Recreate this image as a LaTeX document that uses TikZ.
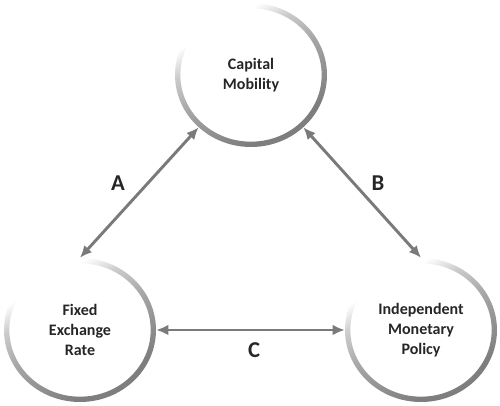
\documentclass[tikz,border=0pt]{standalone}
\usepackage{fontspec}
\setmainfont{Carlito}
\usepackage{tikz}
\usetikzlibrary{shapes.geometric,arrows.meta}

\definecolor{ringgray}{HTML}{7E7E7E}
\definecolor{arrowgray}{HTML}{7A7A7A}
\definecolor{textgray}{HTML}{262626}

\pgfdeclareverticalshading{ringfade}{100bp}{color(0bp)=(ringgray); color(30bp)=(ringgray);
  color(50bp)=(gray!70); color(62bp)=(gray!40); color(70bp)=(white); color(100bp)=(white)}

\tikzset{
  topic/.style={ellipse,inner sep=0pt,minimum width=114pt,minimum height=108pt,
    align=center,text=textgray,font=\fontsize{12}{15}\selectfont\bfseries},
  ring/.style={even odd rule,shading=ringfade,shading angle=30},
  link/.style={draw=arrowgray,line width=2.2pt,
    {Latex[length=9pt,width=8pt]}-{Latex[length=9pt,width=8pt]}},
  letter/.style={text=textgray,font=\fontsize{17}{20}\selectfont\bfseries}
}

\begin{document}
\begin{tikzpicture}[x=0.75pt,y=0.75pt]
            \useasboundingbox (0,0) rectangle (500,406);
            \node[topic] (capital) at (251,331) {Capital\\Mobility};
            \node[topic] (fixed) at (80,76) {Fixed\\Exchange\\Rate};
            \node[topic] (policy) at (421,76) {Independent\\Monetary\\Policy};
            % shaded rings
            \foreach \n in {capital,fixed,policy}
              \shade[ring] (\n.center) ellipse (57pt and 54pt) (\n.center) ellipse (53pt and 50pt);
            \draw[link] (capital.225) -- (fixed.north);
            \draw[link] (capital.315) -- (policy.north);
            \draw[link] (fixed.east) -- (policy.west);
            \node[letter] (a) at (118,223) {A};
            \node[letter] (b) at (378,223) {B};
            \node[letter] (c) at (254,56) {C};
        \end{tikzpicture}
\end{document}
